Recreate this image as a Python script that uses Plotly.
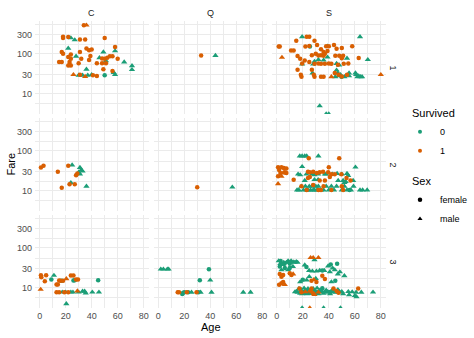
import plotly.graph_objects as go
from plotly.subplots import make_subplots

# ---- data: (age, fare, survived, sex) per facet (embarked, pclass) ----
C1 = [(34,512,1,'f'),(36,512,1,'m'),(18,263,1,'f'),(18,247,1,'f'),(22,262,1,'f'),(24,247,0,'m'),(27,221,0,'m'),
      (31,227,1,'f'),(35,227,1,'f'),(50,247,1,'f'),(58,147,1,'f'),(58,117,0,'m'),(22,136,0,'m'),
      (17,110,1,'f'),(18,100,1,'f'),(17,62,1,'f'),(15,62,1,'f'),(24,95,1,'f'),(24,75,1,'f'),(22,83,1,'f'),
      (23,62,1,'f'),(23,53,1,'f'),(24,51,1,'f'),(22,51,1,'f'),(28,86,0,'m'),(31,110,1,'f'),(32,75,1,'f'),
      (30,58,1,'f'),(36,135,1,'f'),(38,122,1,'f'),(40,128,1,'f'),(39,88,1,'f'),(38,70,1,'f'),(49,110,0,'m'),
      (46,79,0,'m'),(48,76,1,'f'),(50,75,1,'f'),(52,79,1,'f'),(54,86,1,'f'),(56,86,1,'f'),(60,75,1,'f'),
      (44,58,1,'f'),(48,58,1,'f'),(51,58,1,'f'),(51,66,0,'m'),(65,62,0,'m'),(71,50,0,'m'),(71,40,0,'m'),
      (36,41,0,'m'),(49,41,1,'f'),(56,37,1,'f'),(57,34,0,'m'),(58,30,0,'m'),(30,29,0,'m'),(33,29,0,'m'),
      (40,30,0,'m'),(37,29,0,'m'),(26,30,1,'m'),(31,30,1,'f'),(35,27,1,'m'),(44,28,1,'f'),(41,29,1,'f'),
      (50,29,0,'f')]
C2 = [(1,38,1,'f'),(3,42,1,'f'),(14,30,1,'f'),(22,42,1,'f'),(25,44,0,'m'),(31,38,0,'m'),(32,33,0,'m'),
      (33,31,0,'m'),(28,24.5,1,'f'),(29,27,1,'f'),(30,29,0,'m'),(31,26,0,'m'),(17,12,1,'f'),(23,14.5,1,'f'),
      (27,14.5,1,'f'),(24,16,0,'m'),(36,13,0,'m')]
C3 = [(1,20.7,1,'f'),(1.3,18.5,1,'f'),(5,20.5,1,'f'),(4,14.6,1,'f'),(9,16.2,0,'f'),(11,20.4,0,'m'),
      (15,15.2,1,'f'),(16,15,1,'f'),(18,15,1,'f'),(17,15,0,'f'),(13,12.1,1,'f'),(14,12.1,1,'f'),
      (24,20.4,1,'f'),(26,20.4,1,'f'),(20.5,16.8,1,'m'),(27,15.5,0,'f'),(26,15.2,0,'f'),(28,16.2,1,'f'),
      (29.5,16.2,1,'f'),(45,15.5,0,'f'),(0.8,9.1,1,'m'),(13,7.8,1,'f'),(15,7.8,1,'f'),(19,7.8,1,'f'),
      (22,7.8,1,'f'),(17.4,7.8,0,'m'),(20,7.8,0,'m'),(24,7.8,0,'m'),(25.6,7.8,0,'m'),(30,7.8,0,'m'),
      (33,8.2,0,'m'),(34.6,8.2,0,'m'),(35.4,7.4,0,'m'),(40.5,7.8,0,'m'),(45.6,7.8,0,'m'),(29,8.3,1,'m'),
      (20.5,4.0,0,'m')]
Q1 = [(33,90,1,'f'),(44,90,0,'m')]
Q2 = [(30,12.35,1,'f'),(57,12.35,0,'m')]
Q3 = [(2,29.1,0,'m'),(4,29.1,0,'m'),(7,29.1,0,'m'),(8,29.1,0,'m'),(39,29.1,0,'f'),(32,15.5,0,'f'),
      (40,15.5,0,'m'),(15,7.75,1,'f'),(16,7.75,1,'f'),(18.5,7.0,0,'f'),(19,7.4,0,'f'),(20,7.75,0,'f'),
      (22,7.75,1,'f'),(23,7.75,0,'f'),(25.6,7.75,0,'m'),(29.5,7.75,1,'f'),(31,7.75,0,'f'),(32.6,7.75,0,'m'),
      (41,7.75,0,'m'),(65.4,7.75,0,'m'),(71,7.75,0,'m')]
S1 = [(19.5,263,0,'m'),(23,263,1,'f'),(25,263,1,'f'),(64,263,0,'m'),(1.5,151.6,1,'f'),(2.3,151.6,1,'f'),
      (4,81,1,'m'),(11,120,1,'f'),(13,120,1,'f'),(15,211,1,'f'),(22,151,1,'f'),(25,156,1,'f'),(25.5,151,0,'f'),
      (29,211,1,'f'),(31,164,1,'f'),(34,130,1,'f'),(36,110,1,'f'),(38,153,1,'f'),(40,153,1,'f'),(39,153,0,'m'),
      (44,164,1,'f'),(46,133,1,'f'),(50,139,1,'f'),(58,153,1,'f'),(70,71,0,'m'),(63,78,1,'f'),
      (16,88,1,'f'),(18,75,1,'f'),(19.5,57,1,'f'),(19.5,55,0,'m'),(21.5,68,1,'f'),(25,62,1,'f'),(27,91,1,'f'),
      (30,100,1,'f'),(32,90,1,'f'),(34,91,1,'f'),(36,89,1,'f'),(37,100,1,'f'),(39,117,1,'f'),
      (29,56,1,'f'),(32,57,1,'f'),(34,56,1,'f'),(37,56,1,'f'),(40,57,1,'f'),(42,56,1,'f'),(29,64,0,'m'),
      (28,55,0,'m'),(32,71,0,'m'),(36,69,0,'m'),(39,82,0,'m'),(45,89,1,'f'),(48,89,1,'f'),(51,89,1,'f'),
      (50,77,1,'f'),(54,77,0,'m'),(51.5,56,1,'f'),(55,57,1,'f'),(46,57,0,'m'),(48,52,0,'m'),(47,53,1,'f'),
      (16,40,1,'f'),(18.5,30,1,'f'),(19,26.5,1,'f'),(27,40,1,'f'),(28.5,30,1,'f'),(29,26.5,1,'f'),
      (34,26.5,1,'f'),(36,26.5,1,'f'),(27.5,33,0,'m'),(42,26.5,1,'m'),(44.6,33,1,'f'),(47.5,30,1,'f'),
      (50,27,1,'f'),(46,39,0,'m'),(47,33,0,'m'),(48,28,0,'m'),(45,26.5,0,'m'),(49,30,0,'m'),(52,26.5,0,'m'),
      (55.6,33,0,'m'),(55.6,28,0,'m'),(60.5,33,0,'m'),(61,30,0,'m'),(62,26.5,0,'m'),(64.4,26.5,0,'m'),
      (63,28,0,'m'),(65.6,26.5,0,'m'),(49.7,26.5,0,'f'),(54,30,1,'f'),(80,30,1,'m'),
      (33,5,0,'m'),(38,0,0,'m'),(40,0,0,'m')]
S2 = [(17.7,73.5,0,'m'),(19.5,73.5,0,'m'),(21.5,73.5,0,'m'),(23,73.5,0,'m'),(32,73.5,0,'m'),(24.6,65,1,'f'),
      (48,65,1,'f'),(40,39,1,'f'),(60.5,39,0,'m'),(19.5,40,0,'m'),
      (1,39,1,'f'),(3.6,39,1,'f'),(5.4,37,1,'f'),(7.4,36,1,'f'),(1.8,33,1,'f'),(2.8,27.7,1,'f'),(4.9,27.7,1,'m'),
      (6.1,29,1,'f'),(7.4,27.7,1,'f'),(3.6,23,1,'m'),(1,23,1,'f'),(1,15,1,'m'),(13,19,1,'f'),
      (24,30,1,'f'),(25.4,29,1,'f'),(28,30,1,'f'),(30.8,28,1,'f'),(33,29,1,'f'),(35.6,30,1,'f'),(39.5,29,1,'f'),
      (42,26,1,'f'),(44.6,26,1,'f'),(49.7,26,1,'f'),
      (16.4,26,0,'m'),(18,25,0,'m'),(22.8,26,0,'m'),(31.8,26,0,'m'),(37,26,0,'m'),(38,26,0,'m'),(43,26,0,'m'),
      (46.4,27,0,'m'),(50,26,0,'m'),(54,27,0,'m'),(54.9,24,0,'m'),(27,26,0,'m'),(29,25,0,'m'),
      (24,21,1,'f'),(25.4,22,1,'f'),(33,18,1,'f'),(37,18,1,'f'),(40.8,22,1,'f'),(53.6,21,1,'f'),(56.7,18,1,'f'),
      (21.5,18,0,'m'),(29,19,0,'m'),(31.8,19,0,'m'),(47.2,18,0,'m'),(51,18,0,'m'),(53,17,0,'m'),(58.7,18,0,'m'),
      (52,16,0,'m'),
      (15.6,10.5,0,'m'),(17,10.5,0,'m'),(19,13,0,'m'),(20.5,10.5,0,'m'),(22,13,0,'m'),(23,10.5,0,'m'),
      (24,10.5,0,'m'),(25,13,0,'m'),(26,10.5,0,'m'),(27,13,0,'m'),(28,10.5,0,'m'),(29,10.5,0,'m'),
      (30,13,0,'m'),(31,10.5,0,'m'),(32,13,0,'m'),(34,10.5,0,'m'),(36,10.5,0,'m'),(38,13,0,'m'),
      (40,10.5,0,'m'),(42,13,0,'m'),(44,10.5,0,'m'),(46,13,0,'m'),(50,10.5,0,'m'),(52,13,0,'m'),
      (54,10.5,0,'m'),(57,10.5,0,'m'),(59,13,0,'m'),(64,10.5,0,'m'),(66,10.5,0,'m'),(69.5,10.5,0,'m'),
      (19,13,1,'f'),(23,10.5,1,'f'),(28,14,1,'f'),(32,10.5,1,'f'),(34,10.5,1,'f'),(36,13,1,'f'),
      (42,10.5,1,'f'),(50,13,1,'f'),(51,10.5,1,'f'),(56,10.5,0,'f')]
S3 = [(26,56.5,1,'m'),(28,56.5,1,'m'),(32,56.5,1,'m'),(29,50,0,'m'),
      (1.5,46.9,0,'m'),(2.8,40,0,'m'),(4.4,38,0,'m'),(5.4,43,0,'m'),(7.4,43,0,'m'),(8.7,46.9,0,'m'),
      (10,43,0,'m'),(11,46.9,0,'m'),(12.6,44,0,'m'),(13.8,43,0,'m'),(15,45,0,'m'),(16,43,0,'m'),
      (3,46.9,0,'f'),(6,39.7,0,'f'),(10,39.7,0,'f'),(2.3,34,0,'f'),(3.6,28,0,'m'),(6.2,31.3,0,'f'),
      (8.7,28,0,'m'),(10,31.3,0,'f'),(12.4,34,0,'m'),
      (21.5,37,0,'m'),(22.8,33,0,'f'),(24.9,27,0,'m'),(27.4,26,0,'m'),(30.5,26,0,'m'),(33,27,0,'m'),
      (35,27,0,'f'),(36.5,27,0,'m'),(39.5,35,0,'m'),(41.5,38,0,'f'),(46.4,40,0,'f'),(43,31,0,'m'),
      (44.6,28,0,'m'),(48.5,25,0,'m'),(40.8,25,0,'m'),(52,20,0,'m'),(47,22,0,'m'),
      (2.3,22,1,'f'),(3.6,19,1,'f'),(4.9,21,1,'f'),(10,23,1,'f'),(11.3,21,1,'f'),(12.6,22,1,'m'),
      (1.8,12,1,'f'),(3.6,13,1,'f'),(4.9,14,1,'f'),(6.2,12,1,'m'),
      (26.7,15,1,'f'),(28.5,16,1,'m'),(30.5,14,1,'f'),(35,20,1,'f'),(37,16.5,1,'f'),
      (18,14,0,'m'),(20,16,0,'f'),(23,15.5,0,'m'),(30,17,0,'m'),(42,14,0,'m'),(45,15,0,'f'),(25,19,0,'m'),
      (62.6,9.6,1,'f'),
      (14,7.9,0,'m'),(15,8.05,0,'m'),(16,7.75,0,'m'),(17,9.5,0,'m'),(18,7.25,0,'m'),(18.5,8.05,0,'m'),
      (19,7.9,0,'m'),(19.5,7.05,0,'m'),(20,8.05,0,'m'),(20.5,7.25,0,'m'),(21,9.8,0,'m'),(21.5,7.8,0,'m'),
      (22,7.25,0,'m'),(22,8.6,0,'m'),(23,7.9,0,'m'),(23.5,7.05,0,'m'),(24,8.05,0,'m'),(24,9.5,0,'m'),
      (25,7.65,0,'m'),(25.5,7.25,0,'m'),(26,7.9,0,'m'),(26,8.7,0,'m'),(27,7.25,0,'m'),(28,7.9,0,'m'),
      (28,9.5,0,'m'),(28.5,8.05,0,'m'),(29,7.9,0,'m'),(30,7.25,0,'m'),(30,8.05,0,'m'),(31,9.8,0,'m'),
      (32,7.9,0,'m'),(32,7.05,0,'m'),(33,8.65,0,'m'),(34,7.9,0,'m'),(35,8.05,0,'m'),(36,7.25,0,'m'),
      (37,7.9,0,'m'),(38,8.66,0,'m'),(39,7.9,0,'m'),(40,7.8,0,'m'),(41,7.13,0,'m'),(42,8.4,0,'m'),
      (43,8.05,0,'m'),(44,7.9,0,'m'),(45,7.75,0,'m'),(47,9.0,0,'m'),(48,7.85,0,'m'),(50,8.05,0,'m'),
      (51,7.05,0,'m'),(55,8.05,0,'m'),(58,7.9,0,'m'),(61,7.75,0,'m'),(65,7.75,0,'m'),(74,7.8,0,'m'),
      (20,7.9,0,'f'),(24,8.1,0,'f'),(31,7.8,0,'f'),(35,9.8,0,'f'),(41,7.9,0,'f'),(18,9.2,0,'f'),
      (17.5,9.6,1,'f'),(19,7.8,1,'f'),(25.4,8.3,1,'m'),(26.7,9.6,1,'f'),(28,7.2,1,'f'),(29,6.8,1,'m'),
      (43.6,9.6,1,'f'),(46,8.4,1,'f'),(47.5,7.6,1,'f'),(22,7.9,1,'m'),(27,7.9,1,'m'),(32,7.8,1,'m'),
      (55.6,6.7,0,'m'),(60,6.4,0,'m'),(61.3,6.0,0,'m'),
      (19.5,0,0,'m'),(25.4,0,1,'m'),(36,0,0,'m'),(49,0,0,'m')]

EMBARKED = ['C', 'Q', 'S']
PCLASS = ['1', '2', '3']
PANELS = {('C','1'): C1, ('C','2'): C2, ('C','3'): C3,
          ('Q','1'): Q1, ('Q','2'): Q2, ('Q','3'): Q3,
          ('S','1'): S1, ('S','2'): S2, ('S','3'): S3}
Y_TICKS = [10, 30, 100, 300]
X_TICKS = [0, 20, 40, 60, 80]

COLORS = {0: '#1B9E77', 1: '#D95F02'}
SYMBOLS = {'f': 'circle', 'm': 'triangle-up'}
SIZES = {'f': 4.5, 'm': 5.5}

Y_LO, Y_HI = 0.498, 2.815
X_LO, X_HI = -3.56, 83.98

W, H = 474, 338
ML, MR, MT, MB = 35, 88, 21, 30
PW, PH = W - ML - MR, H - MT - MB

fig = make_subplots(rows=3, cols=3, shared_xaxes=True, shared_yaxes=True,
                    horizontal_spacing=4.7 / PW, vertical_spacing=4 / PH)

for ci, emb in enumerate(EMBARKED):
    for ri, pc in enumerate(PCLASS):
        pts = PANELS[(emb, pc)]
        for surv in (0, 1):
            for sex in ('f', 'm'):
                sel = [p for p in pts if p[2] == surv and p[3] == sex]
                if not sel:
                    continue
                # like ggplot, zero fares (-Inf on log scale) are squished to the panel edge
                ys = [p[1] if p[1] > 0 else 10 ** Y_LO for p in sel]
                fig.add_trace(go.Scatter(
                    x=[p[0] for p in sel], y=ys, mode='markers',
                    marker=dict(color=COLORS[surv], symbol=SYMBOLS[sex], size=SIZES[sex], line=dict(width=0)),
                    showlegend=False, hoverinfo='skip'), row=ri + 1, col=ci + 1)

# legend keys
for surv in (0, 1):
    fig.add_trace(go.Scatter(x=[None], y=[None], mode='markers', name=str(surv),
                             marker=dict(color=COLORS[surv], symbol='circle', size=4),
                             legend='legend'))
for sex, label in (('f', 'female'), ('m', 'male')):
    fig.add_trace(go.Scatter(x=[None], y=[None], mode='markers', name=label,
                             marker=dict(color='black', symbol=SYMBOLS[sex], size=4.5),
                             legend='legend2'))

GRID = '#EBEBEB'
TICKFONT = dict(family='Liberation Sans, Arial, sans-serif', size=9, color='#4D4D4D')
fig.update_xaxes(range=[X_LO, X_HI], tickmode='array', tickvals=X_TICKS, ticks='',
                 showline=False, zeroline=False, showgrid=True, gridcolor=GRID, gridwidth=1,
                 minor=dict(tickmode='array', tickvals=[10, 30, 50, 70], showgrid=True,
                            gridcolor=GRID, gridwidth=0.5),
                 tickfont=TICKFONT, ticklabelstandoff=1)
fig.update_yaxes(type='log', range=[Y_LO, Y_HI], tickmode='array', tickvals=Y_TICKS,
                 ticktext=[str(v) for v in Y_TICKS], ticks='',
                 showline=False, zeroline=False, showgrid=True, gridcolor=GRID, gridwidth=1,
                 minor=dict(tickmode='array', tickvals=[5.77, 17.3, 54.8, 173, 548], showgrid=True,
                            gridcolor=GRID, gridwidth=0.5),
                 tickfont=TICKFONT, ticklabelstandoff=2)

STRIP = dict(family='Liberation Sans, Arial, sans-serif', size=9, color='#1A1A1A')
ann = []
for ci, emb in enumerate(EMBARKED):
    xa = fig.layout['xaxis' + ('' if ci == 0 else str(ci + 1))]
    ann.append(dict(text=emb, xref='paper', yref='paper', x=(xa.domain[0] + xa.domain[1]) / 2,
                    y=1 + 8 / PH, showarrow=False, font=STRIP, xanchor='center', yanchor='middle'))
for ri, pc in enumerate(PCLASS):
    ya = fig.layout['yaxis' + ('' if ri == 0 else str(ri * 3 + 1))]
    ann.append(dict(text=pc, xref='paper', yref='paper', x=1 + 7 / PW,
                    y=(ya.domain[0] + ya.domain[1]) / 2, showarrow=False, font=STRIP,
                    textangle=90, xanchor='center', yanchor='middle'))
TITLEFONT = dict(family='Liberation Sans, Arial, sans-serif', size=11, color='#000000')
ann.append(dict(text='Age', xref='paper', yref='paper', x=0.5, y=-19 / PH, showarrow=False,
                font=TITLEFONT, xanchor='center', yanchor='middle'))
ann.append(dict(text='Fare', xref='paper', yref='paper', x=-25 / PW, y=0.5, showarrow=False,
                font=TITLEFONT, textangle=-90, xanchor='center', yanchor='middle'))

LEGFONT = dict(family='Liberation Sans, Arial, sans-serif', size=9, color='#000000')
LEGTITLE = dict(family='Liberation Sans, Arial, sans-serif', size=11, color='#000000')
LEG_X = (410 - ML) / PW
fig.update_layout(
    width=W, height=H, margin=dict(l=ML, r=MR, t=MT, b=MB, pad=0, autoexpand=False),
    paper_bgcolor='white', plot_bgcolor='white',
    annotations=ann,
    legend=dict(title=dict(text='Survived', font=LEGTITLE), font=LEGFONT, x=LEG_X,
                xanchor='left', y=1 - (103 - MT) / PH, yanchor='top', bgcolor='rgba(0,0,0,0)',
                itemwidth=30, tracegroupgap=0, indentation=-10),
    legend2=dict(title=dict(text='Sex', font=LEGTITLE), font=LEGFONT, x=LEG_X,
                 xanchor='left', y=1 - (171 - MT) / PH, yanchor='top', bgcolor='rgba(0,0,0,0)',
                 itemwidth=30, tracegroupgap=0, indentation=-10),
)

fig.write_html('out.html')
